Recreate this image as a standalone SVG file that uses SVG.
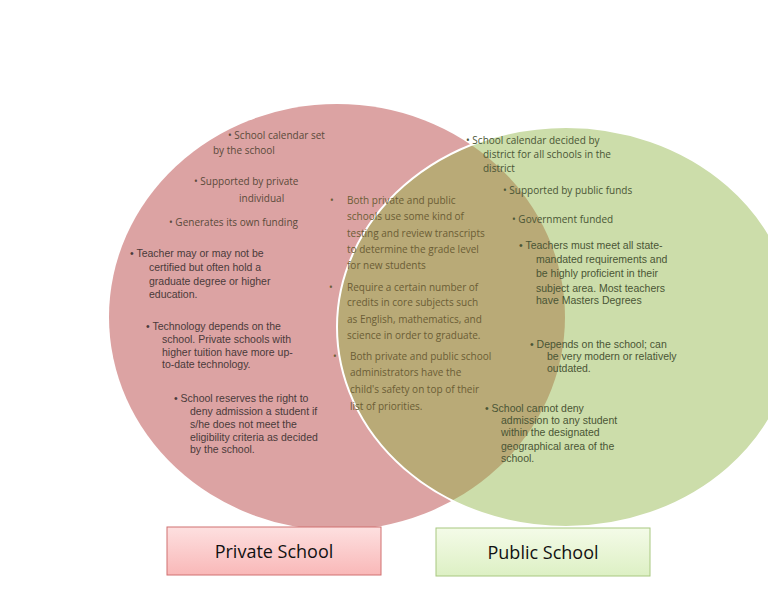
<svg xmlns="http://www.w3.org/2000/svg" width="768" height="594" viewBox="0 0 768 594">
<defs>
<linearGradient id="gp" x1="0" y1="0" x2="0" y2="1"><stop offset="0" stop-color="#fde0e0"/><stop offset="1" stop-color="#f9b8b8"/></linearGradient>
<linearGradient id="gg" x1="0" y1="0" x2="0" y2="1"><stop offset="0" stop-color="#f4fbe8"/><stop offset="1" stop-color="#ddf0c4"/></linearGradient>
<style>
.a{font-family:"Liberation Sans",Arial,sans-serif;font-size:10.5px;fill:#4a3a3a}
.c{font-family:"Open Sans","Noto Sans",sans-serif;font-size:10px;fill:#5a4a3a}
.g{font-family:"Open Sans","Noto Sans",sans-serif;font-size:10px;fill:#4a5535}
.h{font-family:"Liberation Sans",Arial,sans-serif;font-size:10.5px;fill:#4a5535}
.o{font-family:"Open Sans","Noto Sans",sans-serif;font-size:10px;fill:#6b5d35}
.t{font-family:"Open Sans","Noto Sans",sans-serif;font-size:18px;fill:#111;text-anchor:middle}
</style>
</defs>
<rect width="768" height="594" fill="#fff"/>
<g id="private-circle"><ellipse cx="337" cy="317" rx="228" ry="213" fill="#dca3a3"/></g>
<g id="public-circle"><ellipse cx="566" cy="327" rx="229" ry="200" fill="rgb(142,180,67)" fill-opacity="0.45" stroke="#fff" stroke-width="2"/></g>
<g id="private-text">
<text class="c" x="228" y="139">•   School calendar set</text>
<text class="c" x="213" y="154">by the school</text>
<text class="c" x="194" y="185">•   Supported by private</text>
<text class="c" x="239" y="202">individual</text>
<text class="c" x="169" y="226">•   Generates its own funding</text>
<text class="a" x="130" y="257">•    Teacher may or may not be</text>
<text class="a" x="149" y="271">certified but often hold a</text>
<text class="a" x="149" y="285">graduate degree or higher</text>
<text class="a" x="149" y="298">education.</text>
<text class="a" x="146" y="330">•   Technology depends on the</text>
<text class="a" x="162" y="343">school. Private schools with</text>
<text class="a" x="162" y="356">higher tuition have more up-</text>
<text class="a" x="162" y="368">to-date technology.</text>
<text class="a" x="174" y="402">•   School reserves the right to</text>
<text class="a" x="190" y="415">deny admission a student if</text>
<text class="a" x="190" y="428">s/he does not meet the</text>
<text class="a" x="190" y="441">eligibility criteria as decided</text>
<text class="a" x="190" y="453">by the school.</text>
</g>
<g id="both-text">
<text class="o" x="330" y="204">•</text>
<text class="o" x="347" y="204">Both private and public</text>
<text class="o" x="347" y="220">schools use some kind of</text>
<text class="o" x="347" y="237">testing and review transcripts</text>
<text class="o" x="347" y="253">to determine the grade level</text>
<text class="o" x="347" y="269">for new students</text>
<text class="o" x="329" y="291">•</text>
<text class="o" x="347" y="291">Require a certain number of</text>
<text class="o" x="347" y="306">credits in core subjects such</text>
<text class="o" x="347" y="323">as English, mathematics, and</text>
<text class="o" x="347" y="339">science in order to graduate.</text>
<text class="o" x="333" y="360">•</text>
<text class="o" x="350" y="360">Both private and public school</text>
<text class="o" x="350" y="376">administrators have the</text>
<text class="o" x="350" y="393">child's safety on top of their</text>
<text class="o" x="350" y="410">list of priorities.</text>
</g>
<g id="public-text">
<text class="g" x="466" y="144">•   School calendar decided by</text>
<text class="g" x="483" y="158">district for all schools in the</text>
<text class="g" x="483" y="172">district</text>
<text class="g" x="503" y="194">•   Supported by public funds</text>
<text class="g" x="512" y="223">•   Government funded</text>
<text class="h" x="519" y="249">•   Teachers must meet all state-</text>
<text class="h" x="536" y="263">mandated requirements and</text>
<text class="h" x="536" y="277">be highly proficient in their</text>
<text class="h" x="536" y="292">subject area. Most teachers</text>
<text class="h" x="536" y="304">have Masters Degrees</text>
<text class="h" x="530" y="348">•   Depends on the school; can</text>
<text class="h" x="547" y="360">be very modern or relatively</text>
<text class="h" x="547" y="372">outdated.</text>
<text class="h" x="485" y="412">•   School cannot deny</text>
<text class="h" x="501" y="424">admission to any student</text>
<text class="h" x="501" y="436">within the designated</text>
<text class="h" x="501" y="450">geographical area of the</text>
<text class="h" x="501" y="462">school.</text>
</g>
<g id="label-private"><rect x="167" y="527" width="214" height="48" fill="url(#gp)" stroke="#d07070" stroke-width="1"/><text class="t" x="274" y="558">Private School</text></g>
<g id="label-public"><rect x="436" y="528" width="214" height="48" fill="url(#gg)" stroke="#a8c880" stroke-width="1"/><text class="t" x="543" y="559">Public School</text></g>
</svg>
